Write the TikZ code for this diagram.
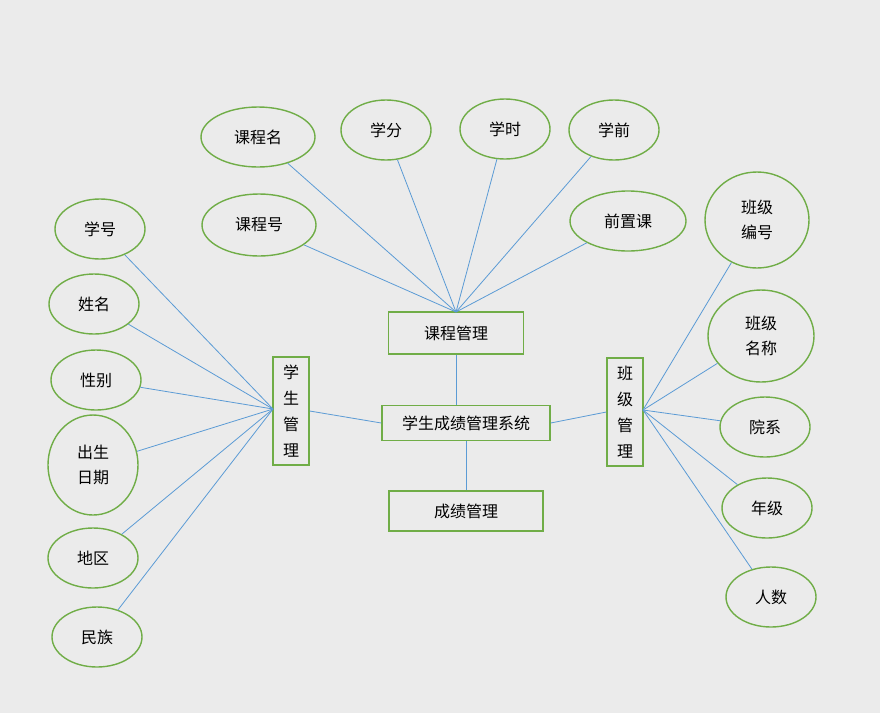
\documentclass[tikz,border=0pt]{standalone}
\usepackage{fontspec}
\newfontfamily\cjk{Noto Sans CJK SC}
\definecolor{bg}{HTML}{EBEBEB}
\definecolor{eg}{HTML}{70AD47}
\definecolor{ln}{HTML}{5B9BD5}
\tikzset{
 el/.style={draw=eg,line width=1.4pt,ellipse,inner sep=0pt,font=\cjk\fontsize{16}{25}\selectfont,align=center},
 bx/.style={draw=eg,line width=1.4pt,rectangle,inner sep=0pt,font=\cjk\fontsize{16}{20}\selectfont,align=center},
 cn/.style={draw=ln,line width=0.8pt}
}
\usetikzlibrary{shapes.geometric}
\begin{document}
\begin{tikzpicture}[x=1pt,y=-1pt]
\fill[bg] (0,0) rectangle (880,713);
\useasboundingbox (0,0) rectangle (880,713);
\newcommand{\E}[6]{\node[el,minimum width=#4*2pt,minimum height=#5*2pt] (#1) at (#2,#3) {#6};}
\E{kcm}{258}{137}{57}{30}{课程名}
\E{xf}{386}{130}{45}{30}{学分}
\E{xs}{505}{129}{45}{30}{学时}
\E{xq}{614}{130}{45}{30}{学前}
\E{kch}{259}{225}{57}{31}{课程号}
\E{qzk}{628}{221}{58}{30}{前置课}
\E{xh}{100}{229}{45}{30}{学号}
\E{xm}{94}{304}{45}{30}{姓名}
\E{xb}{96}{380}{45}{30}{性别}
\E{csrq}{93}{465}{45}{50}{出生\\日期}
\E{dq}{93}{558}{45}{30}{地区}
\E{mz}{97}{637}{45}{30}{民族}
\E{bjbh}{757}{220}{52}{48}{班级\\编号}
\E{bjmc}{761}{336}{53}{46}{班级\\名称}
\E{yx}{765}{427}{45}{30}{院系}
\E{nj}{767}{508}{45}{30}{年级}
\E{rs}{771}{597}{45}{30}{人数}
\node[bx,minimum width=135pt,minimum height=42pt] (kcgl) at (456,333) {课程管理};
\node[bx,minimum width=168pt,minimum height=35pt] (sys) at (466,423) {学生成绩管理系统};
\node[bx,minimum width=154pt,minimum height=40pt] (cjgl) at (466,511) {成绩管理};
\node[bx,minimum width=36pt,minimum height=108pt,font=\cjk\fontsize{16}{26}\selectfont] (xsgl) at (291,411) {学\\生\\管\\理};
\node[bx,minimum width=36pt,minimum height=108pt,font=\cjk\fontsize{16}{26}\selectfont] (bjgl) at (625,412) {班\\级\\管\\理};
\coordinate (kt) at (456,312);
\foreach \n in {kcm,xf,xs,xq,kch,qzk} \draw[cn] (kt) -- (\n);
\coordinate (lt) at (273,409);
\foreach \n in {xh,xm,xb,csrq,dq,mz} \draw[cn] (lt) -- (\n);
\coordinate (rt) at (643,410);
\foreach \n in {bjbh,bjmc,yx,nj,rs} \draw[cn] (rt) -- (\n);
\draw[cn] (xsgl.east) -- (sys.west);
\draw[cn] (sys.east) -- (bjgl.west);
\draw[cn] (kcgl.south) -- (kcgl.south|-sys.north);
\draw[cn] (sys.south) -- (cjgl.north);
\end{tikzpicture}
\end{document}
